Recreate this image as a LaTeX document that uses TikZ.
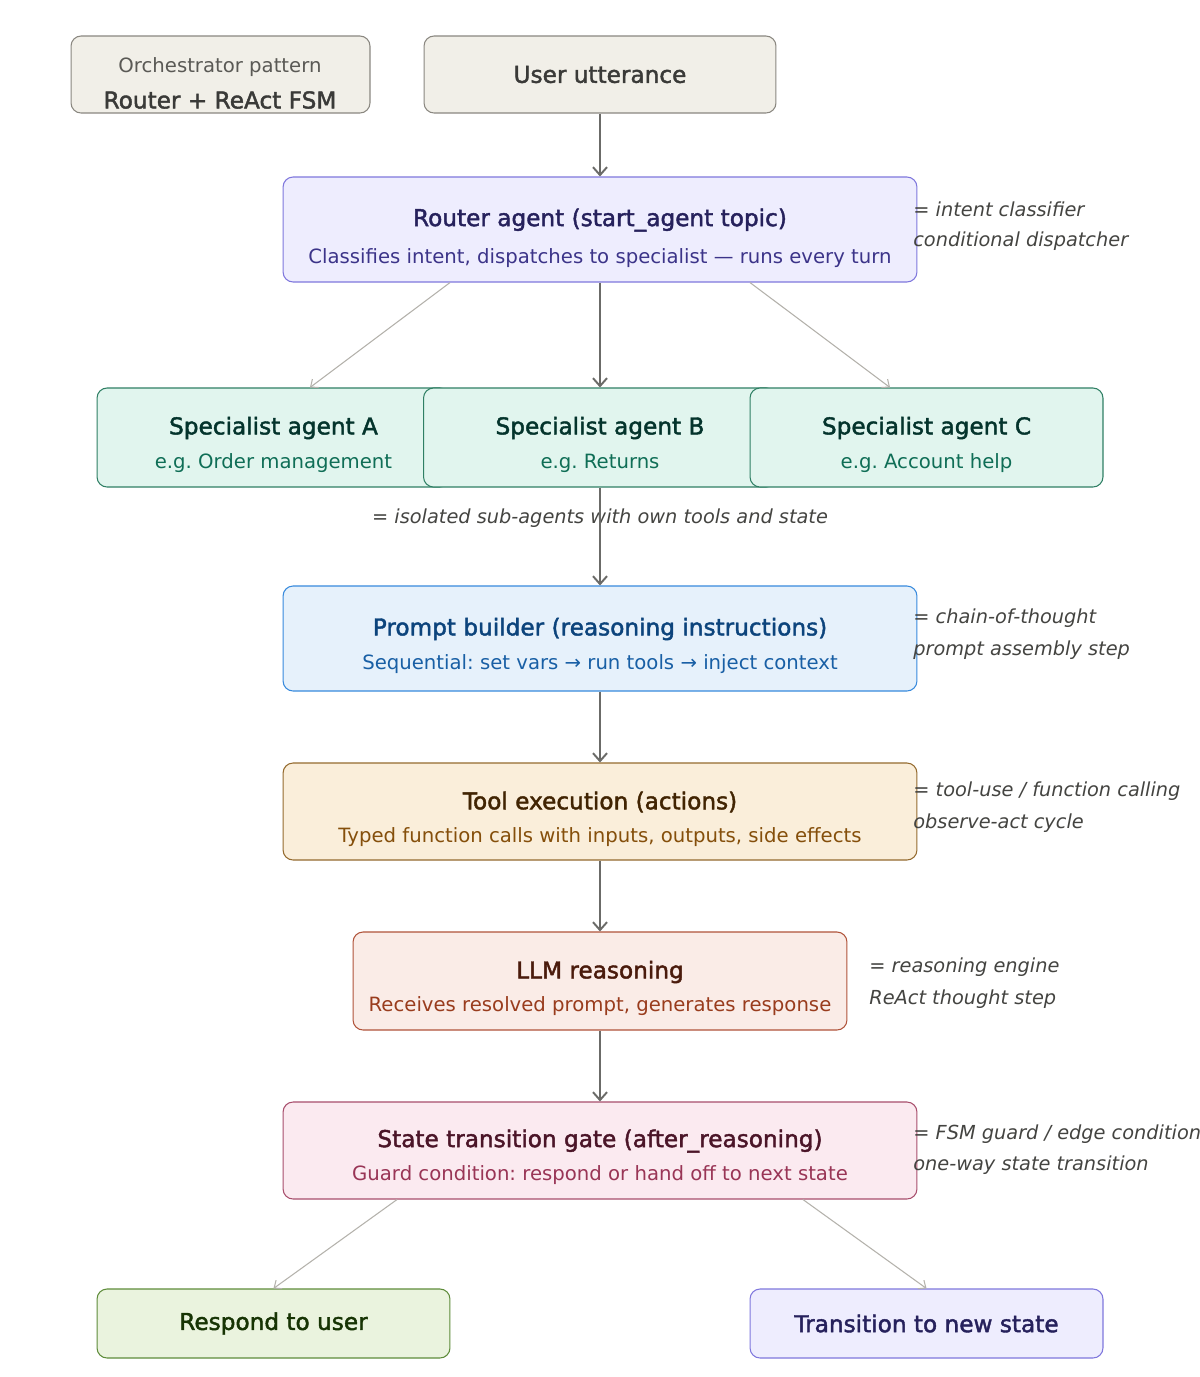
\documentclass[tikz,border=0pt]{standalone}
\usepackage{fontspec}
\setmainfont{DejaVu Sans}
\newfontfamily\semib[FakeBold=1.8]{DejaVu Sans}
\frenchspacing
\usetikzlibrary{arrows.meta}

\definecolor{hdrfill}{HTML}{F1EFE8}
\definecolor{hdrline}{HTML}{8A8780}
\definecolor{hdrtext}{HTML}{3A3A38}
\definecolor{hdrsub}{HTML}{5A5955}
\definecolor{rtfill}{HTML}{EEEDFE}
\definecolor{rtline}{HTML}{7F77DD}
\definecolor{rttext}{HTML}{26215C}
\definecolor{rtsub}{HTML}{3C3489}
\definecolor{spfill}{HTML}{E1F5EE}
\definecolor{spline}{HTML}{2F7F64}
\definecolor{sptext}{HTML}{04342C}
\definecolor{spsub}{HTML}{0F6E56}
\definecolor{pbfill}{HTML}{E6F1FB}
\definecolor{pbline}{HTML}{378ADD}
\definecolor{pbtext}{HTML}{0C447C}
\definecolor{pbsub}{HTML}{185FA5}
\definecolor{tlfill}{HTML}{FAEEDA}
\definecolor{tlline}{HTML}{946A2E}
\definecolor{tltext}{HTML}{412402}
\definecolor{tlsub}{HTML}{854F0B}
\definecolor{llfill}{HTML}{FAECE7}
\definecolor{llline}{HTML}{B0533A}
\definecolor{lltext}{HTML}{4A1B0C}
\definecolor{llsub}{HTML}{993C1D}
\definecolor{gtfill}{HTML}{FBEAF0}
\definecolor{gtline}{HTML}{A84E6C}
\definecolor{gttext}{HTML}{4B1528}
\definecolor{gtsub}{HTML}{993556}
\definecolor{rsfill}{HTML}{EAF3DE}
\definecolor{rsline}{HTML}{5E8C3A}
\definecolor{rstext}{HTML}{173404}
\definecolor{notetext}{HTML}{444441}
\definecolor{mainarrow}{HTML}{6B6B68}
\definecolor{sidearrow}{HTML}{B4B2AC}

\begin{document}
\begin{tikzpicture}[x=0.02cm, y=-0.02cm,
    box/.style={draw, rounded corners=0.2cm, line width=0.6pt, inner sep=0pt},
    wide/.style={box, minimum width=12.68cm, minimum height=2.04cm},
    spec/.style={box, fill=spfill, draw=spline, minimum width=7.06cm, minimum height=1.98cm},
    ttl/.style={inner sep=0pt, font=\semib\fontsize{13.2}{16}\selectfont},
    sub/.style={inner sep=0pt, font=\fontsize{11.2}{14}\selectfont},
    note/.style={inner sep=0pt, anchor=west, text=notetext, font=\fontsize{11}{14}\selectfont\itshape},
    flow/.style={draw=mainarrow, line width=1.1pt, -{Straight Barb[length=4.5pt,width=8pt]}},
    fork/.style={draw=sidearrow, line width=0.6pt, -{Straight Barb[length=3.5pt,width=6pt]}}]

    \fill[white] (0,0) rectangle (1200,1377);
    \useasboundingbox (0,0) rectangle (1200,1377);

    \node[box, fill=hdrfill, draw=hdrline, minimum width=5.98cm, minimum height=1.54cm] (hdr) at (220.5,74.5) {};
    \node[sub, text=hdrsub, font=\fontsize{11.2}{14}\selectfont] (hdrT) at (220,67) {Orchestrator pattern};
    \node[ttl, text=hdrtext] (hdrS) at (220,100) {Router + ReAct FSM};

    \node[box, fill=hdrfill, draw=hdrline, minimum width=7.04cm, minimum height=1.54cm, text=hdrtext, font=\semib\fontsize{13.2}{16}\selectfont] (user) at (600,74.5) {User utterance};

    \node[wide, fill=rtfill, draw=rtline, minimum height=2.1cm] (router) at (600,229.5) {};
    \node[ttl, text=rttext] (routerT) at (600,220) {Router agent (start\_agent topic)};
    \node[sub, text=rtsub] (routerS) at (600,258) {Classifies intent, dispatches to specialist — runs every turn};
    \node[note] (routerN1) at (913,209) {= intent classifier};
    \node[note] (routerN2) at (913,241) {conditional dispatcher};

    \node[spec] (specA) at (273.5,437.5) {};
    \node[spec] (specB) at (600,437.5) {};
    \node[spec] (specC) at (926.5,437.5) {};
    \node[ttl, text=sptext] (specAT) at (273.5,428) {Specialist agent A};
    \node[sub, text=spsub] (specAS) at (273.5,463) {e.g. Order management};
    \node[ttl, text=sptext] (specBT) at (600,428) {Specialist agent B};
    \node[sub, text=spsub] (specBS) at (600,463) {e.g. Returns};
    \node[ttl, text=sptext] (specCT) at (926.5,428) {Specialist agent C};
    \node[sub, text=spsub] (specCS) at (926.5,463) {e.g. Account help};
    \node[note, anchor=center] (specN) at (600,518) {= isolated sub-agents with own tools and state};

    \node[wide, fill=pbfill, draw=pbline, minimum height=2.1cm] (prompt) at (600,638.5) {};
    \node[ttl, text=pbtext] (promptT) at (600,629) {Prompt builder (reasoning instructions)};
    \node[sub, text=pbsub] (promptS) at (600,664) {Sequential: set vars → run tools → inject context};
    \node[note] (promptN1) at (913,618) {= chain-of-thought};
    \node[note] (promptN2) at (913,650) {prompt assembly step};

    \node[wide, fill=tlfill, draw=tlline, minimum height=1.94cm] (tool) at (600,811.5) {};
    \node[ttl, text=tltext] (toolT) at (600,802) {Tool execution (actions)};
    \node[sub, text=tlsub] (toolS) at (600,837) {Typed function calls with inputs, outputs, side effects};
    \node[note] (toolN1) at (913,791) {= tool-use / function calling};
    \node[note] (toolN2) at (913,823) {observe-act cycle};

    \node[box, fill=llfill, draw=llline, minimum width=9.88cm, minimum height=1.96cm] (llm) at (600,981) {};
    \node[ttl, text=lltext] (llmT) at (600,972) {LLM reasoning};
    \node[sub, text=llsub] (llmS) at (600,1006) {Receives resolved prompt, generates response};
    \node[note] (llmN1) at (869,967) {= reasoning engine};
    \node[note] (llmN2) at (869,999) {ReAct thought step};

    \node[wide, fill=gtfill, draw=gtline, minimum height=1.94cm] (gate) at (600,1150.5) {};
    \node[ttl, text=gttext] (gateT) at (600,1141) {State transition gate (after\_reasoning)};
    \node[sub, text=gtsub] (gateS) at (600,1175) {Guard condition: respond or hand off to next state};
    \node[note] (gateN1) at (913,1134) {= FSM guard / edge condition};
    \node[note] (gateN2) at (913,1165) {one-way state transition};

    \node[box, fill=rsfill, draw=rsline, minimum width=7.06cm, minimum height=1.38cm, text=rstext, font=\semib\fontsize{13.2}{16}\selectfont] (respond) at (273.5,1323.5) {Respond to user};
    \node[box, fill=rtfill, draw=rtline, minimum width=7.06cm, minimum height=1.38cm, text=rttext, font=\semib\fontsize{13.2}{16}\selectfont] (newstate) at (926.5,1323.5) {Transition to new state};

    \draw[flow] (user) -- (router);
    \draw[flow] (router) -- (specB);
    \draw[fork] ([xshift=-3cm]router.south) -- ([xshift=0.73cm]specA.north);
    \draw[fork] ([xshift=3cm]router.south) -- ([xshift=-0.73cm]specC.north);
    \draw[flow] (specB) -- (prompt);
    \draw[flow] (prompt) -- (tool);
    \draw[flow] (tool) -- (llm);
    \draw[flow] (llm) -- (gate);
    \draw[fork] ([xshift=-4.06cm]gate.south) -- (respond.north);
    \draw[fork] ([xshift=4.06cm]gate.south) -- (newstate.north);
  \end{tikzpicture}
\end{document}
